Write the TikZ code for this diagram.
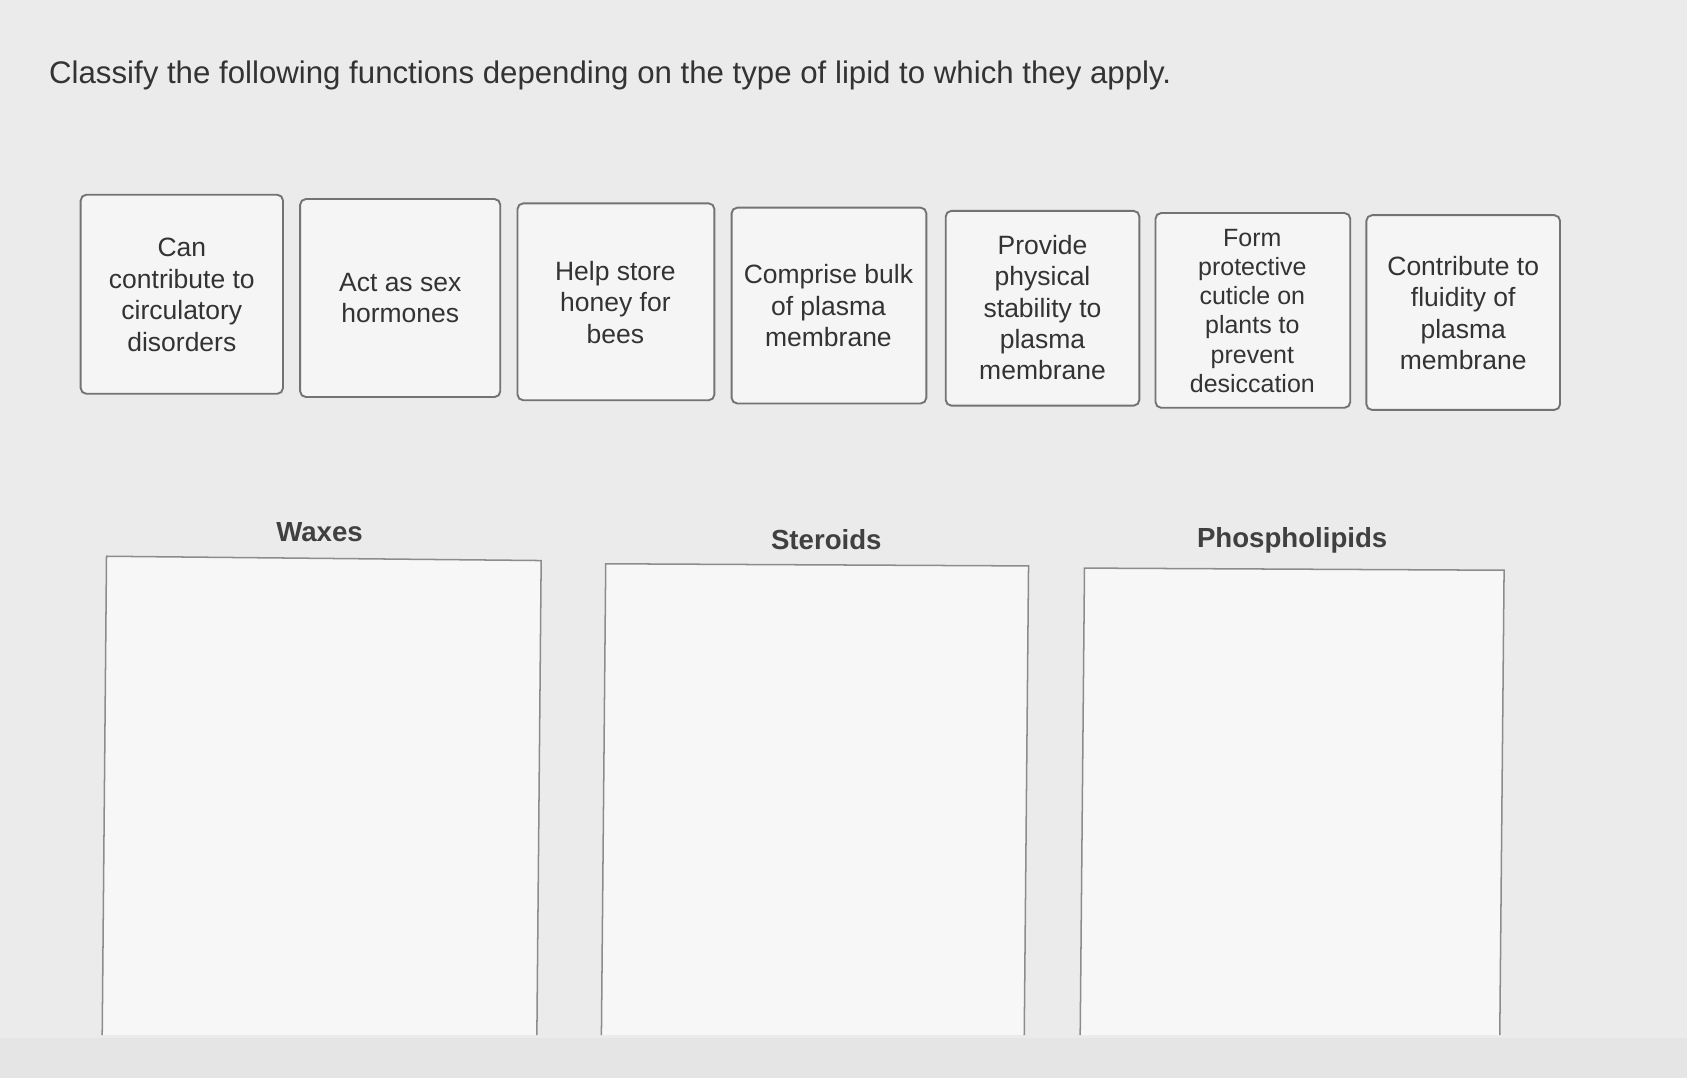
\documentclass[tikz,border=0pt]{standalone}
\usepackage{fontspec}
\setmainfont{Liberation Sans}
\begin{document}
\begin{tikzpicture}[x=0.01cm,y=-0.01cm,
  card/.style={draw=black!55,line width=0.5pt,rounded corners=1.5pt,fill=black!4},
  ctext/.style={align=center,font=\fontsize{7pt}{8.3pt}\selectfont,text=black!80},
  bin/.style={draw=black!45,line width=0.4pt,fill=black!3},
  lbl/.style={font=\bfseries\fontsize{7.3pt}{9pt}\selectfont,text=black!75}]
\fill[black!8] (0,0) rectangle (1568,1002);
\fill[black!10] (0,965) rectangle (1568,1002);
\useasboundingbox (0,0) rectangle (1568,1002);
\node[anchor=west,inner sep=0pt,font=\fontsize{8.25pt}{9pt}\selectfont,text=black!80] (title) at (45,70) {Classify the following functions depending on the type of lipid to which they apply.};
\draw[card] (75,181) rectangle (263,366);
\draw[card] (279,185) rectangle (465,369);
\draw[card] (481,189) rectangle (664,372);
\draw[card] (680,193) rectangle (861,375);
\draw[card] (879,196) rectangle (1059,377);
\draw[card] (1074,198) rectangle (1255,379);
\draw[card] (1270,200) rectangle (1450,381);
\node[ctext] (c1) at (169,274) {Can\\contribute to\\circulatory\\disorders};
\node[ctext] (c2) at (372,277) {Act as sex\\hormones};
\node[ctext] (c3) at (572,281) {Help store\\honey for\\bees};
\node[ctext] (c4) at (770,284) {Comprise bulk\\of plasma\\membrane};
\node[ctext] (c5) at (969,286) {Provide\\physical\\stability to\\plasma\\membrane};
\node[ctext,font=\fontsize{6.6pt}{7.7pt}\selectfont] (c6) at (1164,289) {Form\\protective\\cuticle on\\plants to\\prevent\\desiccation};
\node[ctext] (c7) at (1360,291) {Contribute to\\fluidity of\\plasma\\membrane};
\node[lbl] (l1) at (297,495) {Waxes};
\node[lbl] (l2) at (768,502) {Steroids};
\node[lbl] (l3) at (1201,502) {Phospholipids};
\draw[bin] (95,962) -- (99,517) -- (503,521) -- (499,962);
\draw[bin] (559,962) -- (563,524) -- (956,526) -- (952,962);
\draw[bin] (1004,962) -- (1008,528) -- (1398,530) -- (1394,962);
\end{tikzpicture}
\end{document}
